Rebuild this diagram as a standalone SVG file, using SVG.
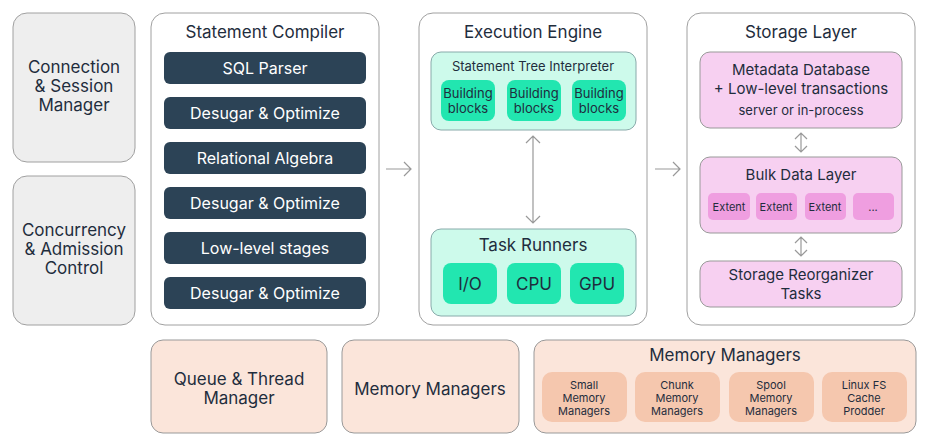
<svg xmlns="http://www.w3.org/2000/svg" width="929" height="445" viewBox="0 0 929 445">
<style>
text{font-family:Inter,"Noto Sans",sans-serif;fill:#1f2d3d;text-anchor:middle}
.t{font-size:17px}.m{font-size:15px}.s{font-size:13px}.xs{font-size:11px}
.grey{fill:#eeeeee;stroke:#a0a0a0;stroke-width:1}
.white{fill:#fff;stroke:#a0a0a0;stroke-width:1}
.dark{fill:#2c4356}
.wt{fill:#fff;font-size:16px}
.mint{fill:#cdfaeb;stroke:#8aa;stroke-width:1}
.green{fill:#22e6b0}
.pink{fill:#f7d0f1;stroke:#999;stroke-width:1}
.pk2{fill:#ef9ee0}
.peach{fill:#fbe5da;stroke:#999;stroke-width:1}
.pc2{fill:#f5c7ae}
.ar{fill:none;stroke:#999;stroke-width:1.2}
</style>
<g id="connection"><rect class="grey" x="13" y="13" width="122" height="149" rx="14"/><text class="t" x="74" y="73">Connection</text><text class="t" x="74" y="92">&amp; Session</text><text class="t" x="74" y="111">Manager</text></g>
<g id="concurrency"><rect class="grey" x="13" y="176" width="122" height="149" rx="14"/><text class="t" x="74" y="236">Concurrency</text><text class="t" x="74" y="255">&amp; Admission</text><text class="t" x="74" y="274">Control</text></g>
<g id="compiler"><rect class="white" x="151" y="13" width="228" height="312" rx="14"/><text class="t" x="265" y="38">Statement Compiler</text>
<rect class="dark" x="164" y="52" width="202" height="32" rx="6"/><text class="wt" x="265" y="74">SQL Parser</text>
<rect class="dark" x="164" y="97" width="202" height="32" rx="6"/><text class="wt" x="265" y="119">Desugar &amp; Optimize</text>
<rect class="dark" x="164" y="142" width="202" height="32" rx="6"/><text class="wt" x="265" y="164">Relational Algebra</text>
<rect class="dark" x="164" y="187" width="202" height="32" rx="6"/><text class="wt" x="265" y="209">Desugar &amp; Optimize</text>
<rect class="dark" x="164" y="232" width="202" height="32" rx="6"/><text class="wt" x="265" y="254">Low-level stages</text>
<rect class="dark" x="164" y="277" width="202" height="32" rx="6"/><text class="wt" x="265" y="299">Desugar &amp; Optimize</text></g>
<g id="engine"><rect class="white" x="419" y="13" width="228" height="312" rx="14"/><text class="t" x="533" y="38">Execution Engine</text>
<rect class="mint" x="431" y="52" width="205" height="78" rx="10"/><text class="s" x="533" y="71">Statement Tree Interpreter</text>
<rect class="green" x="441" y="80" width="54" height="41" rx="8"/><text class="s" x="468" y="98">Building</text><text class="s" x="468" y="113">blocks</text>
<rect class="green" x="507" y="80" width="54" height="41" rx="8"/><text class="s" x="534" y="98">Building</text><text class="s" x="534" y="113">blocks</text>
<rect class="green" x="572" y="80" width="54" height="41" rx="8"/><text class="s" x="599" y="98">Building</text><text class="s" x="599" y="113">blocks</text>
<rect class="mint" x="431" y="229" width="205" height="87" rx="10"/><text class="t" x="533" y="251">Task Runners</text>
<rect class="green" x="443" y="263" width="54" height="41" rx="8"/><text class="t" x="470" y="290">I/O</text>
<rect class="green" x="507" y="263" width="54" height="41" rx="8"/><text class="t" x="534" y="290">CPU</text>
<rect class="green" x="570" y="263" width="54" height="41" rx="8"/><text class="t" x="597" y="290">GPU</text></g>
<g id="storage"><rect class="white" x="687" y="13" width="228" height="312" rx="14"/><text class="t" x="801" y="38">Storage Layer</text>
<rect class="pink" x="700" y="52" width="202" height="76" rx="10"/><text class="m" x="801" y="75">Metadata Database</text><text class="m" x="801" y="94">+ Low-level transactions</text><text class="s" x="801" y="115">server or in-process</text>
<rect class="pink" x="700" y="157" width="202" height="76" rx="10"/><text class="m" x="801" y="180">Bulk Data Layer</text>
<rect class="pk2" x="708" y="193" width="42" height="27" rx="5"/><text class="xs" x="729" y="211">Extent</text>
<rect class="pk2" x="756" y="193" width="41" height="27" rx="5"/><text class="xs" x="776" y="211">Extent</text>
<rect class="pk2" x="805" y="193" width="41" height="27" rx="5"/><text class="xs" x="825" y="211">Extent</text>
<rect class="pk2" x="853" y="193" width="41" height="27" rx="5"/><text class="xs" x="873" y="211">...</text>
<rect class="pink" x="700" y="261" width="202" height="46" rx="10"/><text class="m" x="801" y="280">Storage Reorganizer</text><text class="m" x="801" y="299">Tasks</text></g>
<g id="queue"><rect class="peach" x="151" y="340" width="176" height="93" rx="12"/><text class="t" x="239" y="385">Queue &amp; Thread</text><text class="t" x="239" y="404">Manager</text></g>
<g id="memory1"><rect class="peach" x="342" y="340" width="177" height="93" rx="12"/><text class="t" x="430" y="395">Memory Managers</text></g>
<g id="memory2"><rect class="peach" x="534" y="340" width="382" height="93" rx="12"/><text class="t" x="725" y="361">Memory Managers</text>
<rect class="pc2" x="542" y="372" width="85" height="50" rx="10"/><text class="xs" x="584" y="389">Small</text><text class="xs" x="584" y="402">Memory</text><text class="xs" x="584" y="415">Managers</text>
<rect class="pc2" x="635" y="372" width="85" height="50" rx="10"/><text class="xs" x="677" y="389">Chunk</text><text class="xs" x="677" y="402">Memory</text><text class="xs" x="677" y="415">Managers</text>
<rect class="pc2" x="729" y="372" width="85" height="50" rx="10"/><text class="xs" x="771" y="389">Spool</text><text class="xs" x="771" y="402">Memory</text><text class="xs" x="771" y="415">Managers</text>
<rect class="pc2" x="822" y="372" width="85" height="50" rx="10"/><text class="xs" x="864" y="389">Linux FS</text><text class="xs" x="864" y="402">Cache</text><text class="xs" x="864" y="415">Prodder</text></g>
<g id="connectors">
<path class="ar" d="M386 169H411M404 162L411 169L404 176"/>
<path class="ar" d="M655 169H680M673 162L680 169L673 176"/>
<path class="ar" d="M533 136V223M526 143L533 136L540 143M526 216L533 223L540 216"/>
<path class="ar" d="M801 133V152M795 139L801 133L807 139M795 146L801 152L807 146"/>
<path class="ar" d="M801 237V256M795 243L801 237L807 243M795 250L801 256L807 250"/>
</g>
</svg>
